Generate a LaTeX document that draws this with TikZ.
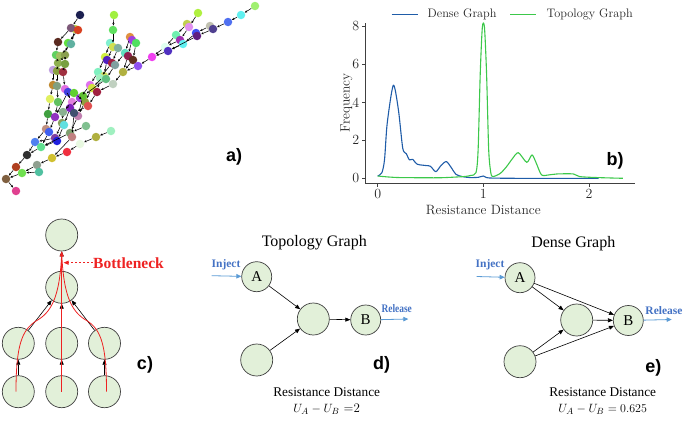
\documentclass[tikz,border=0pt]{standalone}
\usepackage{fontspec}
\usetikzlibrary{arrows.meta}
\newfontfamily\tnr{Liberation Serif}
\newfontfamily\arl{Liberation Sans}
\newcommand\fsz[1]{\fontsize{#1}{#1}\selectfont}
\definecolor{plotblue}{HTML}{1F5CA8}
\definecolor{plotgreen}{HTML}{3CC84A}
\definecolor{spinegray}{HTML}{404040}
\definecolor{nodefill}{HTML}{E2F0D9}
\definecolor{nodeline}{HTML}{404040}
\definecolor{injtext}{HTML}{4472C4}
\definecolor{injarrow}{HTML}{5B9BD5}
\definecolor{bottlered}{HTML}{EE2222}
\begin{document}
\begin{tikzpicture}[x=1pt,y=-1pt,
  dot/.style={circle,inner sep=0pt,minimum size=8.5pt},
  tarr/.style={line width=0.55pt,-{Stealth[length=2.6pt,width=2.2pt]}},
  gnode/.style={circle,draw=nodeline,fill=nodefill,line width=0.7pt,inner sep=0pt,minimum size=32pt,font=\tnr\fsz{15}},
  gnodes/.style={gnode,minimum size=30pt},
  garr/.style={line width=0.6pt,-{Triangle[length=5pt,width=4pt]}},
  injarr/.style={injarrow,line width=0.8pt,-{Triangle[length=5pt,width=4.5pt]}},
  injlbl/.style={text=injtext,font=\tnr\bfseries\fsz{11.5},inner sep=0pt},
  plbl/.style={font=\arl\bfseries\fsz{18},inner sep=0pt},
  ticklbl/.style={font=\fsz{14},text=black!85,inner sep=0pt},
  axlbl/.style={font=\fsz{13.5},text=black!85,inner sep=0pt},
  spine/.style={spinegray,line width=0.8pt},
  redline/.style={bottlered,line width=0.8pt}
]
\useasboundingbox (0,0) rectangle (685,423);

% ---------------- panel a ----------------
\foreach \n/\x/\y/\c in {
1/80/15/1C2050,4/75/29/B8D84A,2/71/28/7D5878,3/78/30/D84020,
5/58/42/5A2A20,6/68/43/60E040,7/71/44/5FB0A0,
8/56/55/5FD060,10/60/56/A0C060,9/65/55/8AA050,
11/58/63/8EB050,12/65/64/78A040,
13/53/70/C0A0E0,14/57/71/88A040,15/63/72/A03040,
16/53/85/C08A30,17/57/86/80A080,18/65/89/E070E0,19/68/92/4040E0,20/74/93/60D030,
21/50/99/E0F060,22/58/102/60C060,24/80/98/A040E0,23/72/102/E080E0,25/85/102/90A040,26/88/106/E05050,
27/48/114/40A040,28/55/117/9030C0,29/63/112/8AB090,30/70/108/8020C0,31/78/116/C080B0,32/74/113/405070,
33/62/123/88A060,34/64/125/60E0E0,35/46/129/C09080,36/49/132/4060F0,37/55/138/8040A0,38/57/141/2020E0,
39/70/133/80A070,40/72/137/C08080,41/86/126/80C090,
42/35/142/5080F0,43/41/147/60E090,44/27/155/303030,45/52/158/D0C030,46/67/152/F03040,
47/80/144/E8F8E0,48/96/137/B0B040,49/111/131/A0F0C0,
50/16/167/B04020,52/37/165/90A090,51/22/173/70E050,53/39/172/50C0A0,54/6/179/806040,55/16/191/E04090,
56/114/15/A0F040,57/113/30/60E060,58/130/37/E09040,59/132/40/A040E0,60/136/43/50E060,
61/110/43/80F0D0,62/113/47/D0E050,63/118/48/80B0A0,
64/125/53/60E0C0,65/128/56/902050,66/133/60/603020,67/138/66/9050F0,
68/105/57/D0F040,69/107/60/5020C0,70/112/63/A02040,71/115/65/80A0A0,72/123/72/B0B040,
73/98/72/80F0C0,74/104/76/D0E060,75/100/78/A0F0C0,76/106/79/60C080,77/113/84/C0D0C0,
78/90/85/E070F0,79/92/88/D0E040,80/97/92/A02040,81/83/96/60C030,
82/255/6/A0F070,83/241/15/60F0F0,84/228/22/5070F0,85/210/26/C0C0B0,86/213/29/504090,
87/198/13/B0F040,88/187/24/C0D050,89/189/27/E090F0,90/196/33/4050F0,91/197/36/602080,
92/176/35/70F0B0,93/180/40/A030B0,94/183/44/60F0F0,95/165/47/E0FFF0,96/168/51/5030C0,
97/152/57/F040F0}
{\definecolor{dc}{HTML}{\c}\node[dot,fill=dc] (d\n) at (\x,\y) {};}
\foreach \a/\b in {1/2,2/5,3/6,4/7,5/8,6/9,7/10,8/11,9/12,10/12,11/14,12/15,13/16,14/17,15/18,
16/21,17/22,18/23,19/28,20/25,21/27,22/28,23/29,24/30,25/31,26/32,27/35,28/36,29/33,30/34,
31/39,32/40,33/37,34/38,35/42,36/43,37/42,38/43,39/43,40/45,41/39,
49/48,48/47,47/46,46/45,45/52,52/51,53/51,42/44,43/44,44/50,50/54,51/54,54/55,
56/57,57/62,58/64,59/65,60/66,61/68,62/69,63/70,64/71,65/72,66/72,67/72,68/73,69/74,70/75,
71/76,72/77,73/78,74/79,75/80,76/81,77/80,78/24,79/25,80/26,81/31,
82/83,83/84,84/86,85/90,86/91,87/89,88/92,89/93,90/94,91/96,92/95,93/95,94/96,95/97,96/97,97/67}
{\draw[tarr] (d\a) -- (d\b);}
\node[plbl] (la) at (234,157) {a)};

% ---------------- panel b ----------------
\begin{scope}[shift={(377.7pt,-178.3pt)},x=105.7pt,y=19pt]
\coordinate (corner) at (-0.12,-0.263);
\draw[spine] (-0.12,8.17) -- (corner) -- (2.43,-0.263);
\foreach \k in {0,2,4,6,8}{
  \draw[spine] (-0.12,\k) -- ++(-3.5pt,0);
  \node[ticklbl,anchor=east,xshift=-5.5pt] (yt\k) at (-0.12,\k) {\k};}
\foreach \k in {0,1,2}{
  \draw[spine] (\k,-0.263) -- ++(0,-3.5pt);
  \node[ticklbl,anchor=north,yshift=-5.5pt] (xt\k) at (\k,-0.263) {\k};}
\draw[plotblue,line width=1.1pt,line join=round] plot[smooth,tension=0.45] coordinates {
(0,0.12) (0.04,0.3) (0.065,1.0) (0.09,2.9) (0.148,4.9) (0.196,3.6) (0.237,1.58) (0.27,1.3) (0.3,0.97)
(0.33,1.0) (0.375,0.74) (0.46,0.67) (0.5,0.63) (0.55,0.35) (0.6,0.68) (0.65,0.88) (0.7,0.53) (0.74,0.21)
(0.8,0.09) (0.87,0.04) (0.95,0.05) (1.0,0.12) (1.05,0.02) (1.3,0.0) (1.7,0.0) (2.09,0.0)};
\draw[plotgreen,line width=1.1pt,line join=round] plot[smooth,tension=0.45] coordinates {
(0,0.12) (0.1,0.07) (0.2,0.04) (0.4,0.03) (0.6,0.03) (0.81,0.09) (0.88,0.15) (0.93,0.3) (0.95,1.5)
(0.97,5.5) (0.99,7.95) (1.01,7.95) (1.03,5.5) (1.05,1.5) (1.07,0.3) (1.09,0.09) (1.16,0.26) (1.22,0.62)
(1.27,1.0) (1.33,1.35) (1.41,0.84) (1.46,1.23) (1.5,0.8) (1.55,0.18) (1.62,0.18) (1.7,0.23) (1.85,0.23)
(1.91,0.09) (2.07,0.04) (2.32,0.0)};
\end{scope}
\node[axlbl] (xlab) at (483.3,210.5) {Resistance Distance};
\node[axlbl,rotate=90] (ylab) at (346.5,103) {Frequency};
\coordinate (lb1) at (391.7,14.3); \coordinate (lb2) at (418.3,14.3);
\draw[plotblue,line width=1.1pt] (lb1) -- (lb2);
\node[axlbl,font=\fsz{12.3},anchor=west] (lt1) at (427.5,14.3) {Dense Graph};
\coordinate (lg1) at (510,14.3); \coordinate (lg2) at (535.5,14.3);
\draw[plotgreen,line width=1.1pt] (lg1) -- (lg2);
\node[axlbl,font=\fsz{12.3},anchor=west] (lt2) at (546.5,14.3) {Topology Graph};
\node[plbl] (lbb) at (615,161) {b)};

% ---------------- panel c ----------------
\node[gnode] (c0) at (61.7,235) {};
\node[gnode] (c1) at (61.7,287.3) {};
\node[gnode] (c2l) at (18.3,343.3) {};
\node[gnode] (c2m) at (61.7,343.3) {};
\node[gnode] (c2r) at (104.5,343.3) {};
\node[gnode] (c3l) at (18.3,391.7) {};
\node[gnode] (c3m) at (61.7,391.7) {};
\node[gnode] (c3r) at (104.5,391.7) {};
\foreach \a/\b in {c2l/c1,c2m/c1,c2r/c1,c3l/c2l,c3m/c2m,c3r/c2r,c1/c0}
  {\draw[garr] (\a) -- (\b);}
\coordinate (rl) at (16,391.7);
\coordinate (rm) at (61.7,391.7);
\coordinate (rr) at (106.5,391.7);
\coordinate (rtop) at (61.7,252);
\draw[redline] (rl) .. controls (16,345) and (22,330) .. (36,321) .. controls (50,313) and (60,300) .. (rtop);
\draw[redline] (rr) .. controls (106.5,345) and (101,330) .. (87.4,321) .. controls (73.4,313) and (63.4,300) .. (rtop);
\draw[redline,-{Triangle[length=5pt,width=4pt]}] (rm) -- (c0.south);
\node[text=bottlered,font=\tnr\bfseries\fsz{15.5},inner sep=0pt,anchor=west] (bn) at (93,262.7) {Bottleneck};
\coordinate (bnend) at (63.5,262.7);
\draw[bottlered,line width=0.8pt,dashed,dash pattern=on 2.5pt off 1.5pt,-{Triangle[length=5pt,width=4pt]}] (bn.west) -- (bnend);
\node[plbl] (lc) at (145,365) {c)};

% ---------------- panel d ----------------
\node[font=\tnr\fsz{16},inner sep=0pt] (dt) at (314.3,242.3) {Topology Graph};
\node[gnodes] (dA) at (256.7,276.7) {A};
\node[gnode] (dM) at (313.3,319) {};
\node[gnodes] (dB) at (365.7,320) {B};
\node[gnode] (dL) at (256.7,360) {};
\foreach \a/\b in {dA/dM,dL/dM,dM/dB} {\draw[garr] (\a) -- (\b);}
\coordinate (dIn) at (211.7,275.7);
\draw[injarr] (dIn) -- (dA);
\node[injlbl] (dInj) at (226,264.3) {Inject};
\coordinate (dOut) at (408.3,319);
\draw[injarr] (dB) -- (dOut);
\node[injlbl,xscale=0.82] (dRel) at (396.7,309) {Release};
\node[plbl] (ld) at (381.7,365) {d)};
\node[font=\tnr\fsz{13.3},inner sep=0pt] (dr1) at (326.7,392.6) {Resistance Distance};
\node[font=\fsz{13},inner sep=0pt] (dr2) at (326.7,409.6) {$U_A - U_B$ =2};

% ---------------- panel e ----------------
\node[font=\tnr\fsz{16},inner sep=0pt] (et) at (573.3,243.5) {Dense Graph};
\node[gnodes] (eA) at (520,277.7) {A};
\node[gnode] (eM) at (576.7,320) {};
\node[gnodes] (eB) at (628.3,320.5) {B};
\node[gnode] (eL) at (520,361.7) {};
\foreach \a/\b in {eA/eM,eA/eB,eL/eM,eL/eB,eM/eB} {\draw[garr] (\a) -- (\b);}
\coordinate (eIn) at (476.7,276.5);
\draw[injarr] (eIn) -- (eA);
\node[injlbl] (eInj) at (490,265) {Inject};
\coordinate (eOut) at (671.7,319.5);
\draw[injarr] (eB) -- (eOut);
\node[injlbl] (eRel) at (664,311) {Release};
\node[plbl] (le) at (653.3,367.7) {e)};
\node[font=\tnr\fsz{13.3},inner sep=0pt] (er1) at (602.7,392.6) {Resistance Distance};
\node[font=\fsz{13},inner sep=0pt] (er2) at (602.7,409.8) {$U_A - U_B = 0.625$};
\end{tikzpicture}
\end{document}
